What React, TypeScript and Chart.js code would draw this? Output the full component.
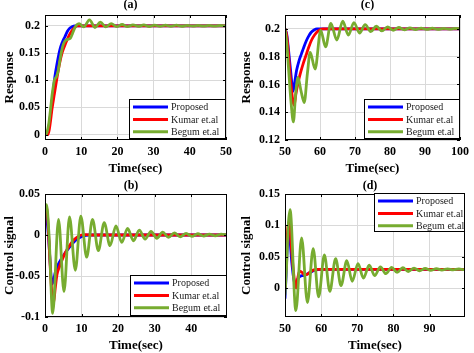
import React, { useEffect, useRef } from "react";
import { Chart, registerables } from "chart.js";

Chart.register(...registerables);

const FONT = "'Liberation Serif', 'Times New Roman', Times, serif";

// ---- series meta ----
const seriesNames = ["Proposed", "Kumar et.al", "Begum et.al"];
const seriesColors = ["#0000ff", "#ff0000", "#77ac30"];
const xAxisLabel = "Time(sec)";

// ---- panel (a): response, 0-50 s ----
const aProposedT = [0, 0.4, 1, 1.6, 2.2, 2.7, 3.4, 4.1, 4.8, 5.5, 6.2, 6.9, 7.6, 8.2, 50];
const aProposedV = [0, 0, 0.012, 0.04, 0.075, 0.105, 0.133, 0.156, 0.17, 0.18, 0.19, 0.196, 0.199, 0.2, 0.2];
const aKumarT = [0, 0.8, 1.2, 2, 2.6, 3.2, 4, 4.8, 5.7, 6.7, 7.5, 8.2, 8.9, 50];
const aKumarV = [0, 0, 0.01, 0.05, 0.075, 0.1, 0.13, 0.152, 0.168, 0.183, 0.192, 0.197, 0.2, 0.2];
const aBegumT = [0, 0.5, 1, 1.5, 2, 2.6, 3.1, 3.6, 4.2, 4.8, 5.4, 6.2, 7, 7.6, 8.2, 8.8, 9.4, 10.7, 12.3, 13.8,
  15.3, 16.8, 18.3, 19.8, 21.3, 22.8, 24.3, 25.8, 27.3, 28.8, 30.3, 31.8, 33.3, 34.8, 36.3, 37.8, 39.3, 40.8,
  42.3, 43.8, 45.3, 46.8, 48.3, 50];
const aBegumV = [0, 0.003, 0.018, 0.045, 0.075, 0.1, 0.106, 0.116, 0.14, 0.16, 0.171, 0.175, 0.177, 0.186, 0.196,
  0.202, 0.204, 0.198, 0.211, 0.197, 0.207, 0.198, 0.204, 0.1985, 0.2025, 0.1985, 0.202, 0.199, 0.2018, 0.1988,
  0.2015, 0.199, 0.2013, 0.1992, 0.2012, 0.1993, 0.201, 0.1994, 0.2009, 0.1995, 0.2008, 0.1995, 0.2007, 0.1997];

// ---- panel (b): control signal, 0-49.8 s ----
const bProposedT = [0, 0.5, 1, 1.5, 1.9, 2.3, 2.8, 3.5, 4.5, 5.5, 6.5, 7.5, 8.5, 9.5, 10.5, 12, 49.8];
const bProposedV = [0.03, 0.02, -0.005, -0.04, -0.06, -0.056, -0.046, -0.037, -0.029, -0.022, -0.016, -0.0105,
  -0.006, -0.003, -0.001, 0, 0];
const bKumarT = [0, 0.5, 1, 1.5, 2, 2.3, 2.8, 3.3, 4, 5, 6, 7, 8, 9, 10, 11, 13, 49.8];
const bKumarV = [0.033, 0.032, 0, -0.045, -0.078, -0.084, -0.065, -0.048, -0.038, -0.027, -0.018, -0.011,
  -0.0055, -0.002, 0, 0.0005, 0, 0];
const bBegumT = [0, 0.4, 1.1, 2.1, 3.7, 5.2, 6.7, 8.3, 9.8, 11.4, 13, 14.6, 16.2, 17.8, 19.4, 21, 22.6, 24.2,
  25.8, 27.4, 29, 30.6, 32.2, 33.8, 35.4, 37, 38.6, 40.2, 41.8, 43.4, 45, 46.6, 48.2, 49.8];
const bBegumV = [0.035, 0.037, 0, -0.0955, 0.019, -0.069, 0.022, -0.043, 0.023, -0.027, 0.019, -0.019, 0.015,
  -0.013, 0.011, -0.009, 0.008, -0.007, 0.006, -0.005, 0.0045, -0.004, 0.0035, -0.003, 0.0025, -0.0022, 0.002,
  -0.0017, 0.0015, -0.0013, 0.001, -0.001, 0.001, 0];

// ---- panel (c): response, 50-100 s ----
const cProposedT = [50, 50.5, 51, 51.6, 52.3, 52.8, 53.3, 54, 54.7, 55.4, 56.1, 56.8, 57.5, 58.3, 59.1, 100];
const cProposedV = [0.2, 0.196, 0.185, 0.17, 0.155, 0.162, 0.17, 0.177, 0.182, 0.187, 0.1915, 0.195, 0.1976,
  0.1992, 0.2, 0.2];
const cKumarT = [50, 50.5, 51, 51.6, 52.2, 52.6, 53.1, 53.8, 54.5, 55.2, 56, 56.8, 57.6, 58.5, 59.5, 60.8, 100];
const cKumarV = [0.2, 0.195, 0.182, 0.163, 0.149, 0.145, 0.153, 0.162, 0.169, 0.175, 0.181, 0.187, 0.192,
  0.1958, 0.1985, 0.2, 0.2];
const cBegumT = [50, 50.5, 51, 51.7, 52.4, 53, 53.7, 54.6, 55.5, 56.4, 57.2, 58.6, 60.2, 61.6, 63.1, 64.8, 66.5,
  68.1, 69.7, 71.3, 72.9, 74.5, 76.1, 77.7, 79.3, 80.9, 82.5, 84.1, 85.7, 87.3, 88.9, 90.5, 92.1, 93.7, 95.3,
  96.9, 98.5, 100];
const cBegumV = [0.2, 0.19, 0.172, 0.148, 0.133, 0.152, 0.165, 0.155, 0.147, 0.168, 0.183, 0.171, 0.199, 0.187,
  0.204, 0.192, 0.2055, 0.1955, 0.2045, 0.197, 0.203, 0.198, 0.202, 0.1985, 0.2015, 0.199, 0.201, 0.1993, 0.2008,
  0.1995, 0.2006, 0.1996, 0.2005, 0.1997, 0.2004, 0.1998, 0.2003, 0.2];

// ---- panel (d): control signal, 50-99.8 s ----
const dProposedT = [50, 50.3, 50.7, 51, 51.4, 51.9, 52.5, 53, 53.6, 54.2, 55, 56, 57, 58, 59, 60, 99.8];
const dProposedV = [-0.016, 0.02, 0.075, 0.09, 0.075, 0.04, 0.012, 0.005, 0.015, 0.019, 0.02, 0.022, 0.025,
  0.028, 0.0295, 0.03, 0.03];
const dKumarT = [50, 50.3, 50.7, 51, 51.3, 51.7, 52.2, 52.7, 53.1, 53.5, 54, 54.7, 55.5, 56.2, 57, 58, 59, 60, 99.8];
const dKumarV = [0, 0.04, 0.09, 0.105, 0.1, 0.07, 0.035, 0.008, 0, 0.015, 0.027, 0.025, 0.021, 0.022, 0.026,
  0.029, 0.0298, 0.03, 0.03];
const dBegumT = [50, 50.4, 50.9, 51.4, 53.0, 54.6, 56.2, 57.8, 59.3, 60.9, 62.4, 64.0, 65.5, 67.1, 68.6, 70.2,
  71.7, 73.3, 74.8, 76.4, 77.9, 79.5, 81.0, 82.6, 84.1, 85.7, 87.2, 88.8, 90.3, 91.9, 93.4, 95.0, 96.5, 98.1,
  99.6, 99.8];
const dBegumV = [-0.01, 0.03, 0.1, 0.125, -0.036, 0.08, -0.023, 0.063, -0.014, 0.053, -0.005, 0.047, 0.004,
  0.0436, 0.011, 0.039, 0.016, 0.0367, 0.02, 0.034, 0.023, 0.033, 0.025, 0.0325, 0.0265, 0.032, 0.0275, 0.0315,
  0.0283, 0.031, 0.0288, 0.0308, 0.0292, 0.0305, 0.0295, 0.0297];

type PanelDef = {
  key: string;
  left: number;
  top: number;
  width: number;
  height: number;
  padTop: number;
  padRight: number;
  yAxisWidth: number;
  xAxisHeight: number;
  xMin: number;
  xMax: number;
  yMin: number;
  yMax: number;
  yStep: number;
  yLabel: string;
  title: string;
  titleY: number;
  legend: { w: number; h: number; anchor: "top" | "bottom" };
  series: number[][][];
};

const panels: PanelDef[] = [
  {
    key: "a", left: 0, top: 0, width: 237, height: 176, padTop: 15, padRight: 10, yAxisWidth: 45, xAxisHeight: 36,
    xMin: 0, xMax: 50, yMin: -0.01, yMax: 0.22, yStep: 0.05, yLabel: "Response", title: "(a)", titleY: 5,
    legend: { w: 97, h: 40, anchor: "bottom" },
    series: [[aProposedT, aProposedV], [aKumarT, aKumarV], [aBegumT, aBegumV]],
  },
  {
    key: "c", left: 237, top: 0, width: 237, height: 176, padTop: 15, padRight: 9, yAxisWidth: 48, xAxisHeight: 36,
    xMin: 50, xMax: 100, yMin: 0.12, yMax: 0.21, yStep: 0.02, yLabel: "Response", title: "(c)", titleY: 5,
    legend: { w: 96, h: 40, anchor: "bottom" },
    series: [[cProposedT, cProposedV], [cKumarT, cKumarV], [cBegumT, cBegumV]],
  },
  {
    key: "b", left: 0, top: 176, width: 237, height: 177, padTop: 18, padRight: 10, yAxisWidth: 45, xAxisHeight: 36,
    xMin: 0, xMax: 49.8, yMin: -0.1, yMax: 0.05, yStep: 0.05, yLabel: "Control signal", title: "(b)", titleY: 9.5,
    legend: { w: 97, h: 41, anchor: "bottom" },
    series: [[bProposedT, bProposedV], [bKumarT, bKumarV], [bBegumT, bBegumV]],
  },
  {
    key: "d", left: 237, top: 176, width: 237, height: 177, padTop: 18, padRight: 9, yAxisWidth: 48, xAxisHeight: 36,
    xMin: 50, xMax: 99.8, yMin: -0.046, yMax: 0.15, yStep: 0.05, yLabel: "Control signal", title: "(d)", titleY: 9.5,
    legend: { w: 91, h: 39, anchor: "top" },
    series: [[dProposedT, dProposedV], [dKumarT, dKumarV], [dBegumT, dBegumV]],
  },
];

const fmt = (v: number | string) => String(Math.round(Number(v) * 10000) / 10000);

const decorPlugin = {
  id: "decor",
  afterDraw(chart: any, _args: any, opts: any) {
    const { ctx, chartArea: ca, scales } = chart;
    ctx.save();
    ctx.strokeStyle = "#000";
    ctx.lineWidth = 1;
    const tl = 3;
    ctx.beginPath();
    for (const t of scales.x.ticks) {
      const px = Math.round(scales.x.getPixelForValue(t.value)) + 0.5;
      ctx.moveTo(px, ca.top);
      ctx.lineTo(px, ca.top + tl);
      ctx.moveTo(px, ca.bottom);
      ctx.lineTo(px, ca.bottom - tl);
    }
    for (const t of scales.y.ticks) {
      const py = Math.round(scales.y.getPixelForValue(t.value)) + 0.5;
      ctx.moveTo(ca.left, py);
      ctx.lineTo(ca.left + tl, py);
      ctx.moveTo(ca.right, py);
      ctx.lineTo(ca.right - tl, py);
    }
    ctx.stroke();
    ctx.strokeRect(Math.round(ca.left) + 0.5, Math.round(ca.top) + 0.5,
      Math.round(ca.right - ca.left) - 1, Math.round(ca.bottom - ca.top) - 1);

    // panel title
    ctx.fillStyle = "#000";
    ctx.font = `bold 12px ${FONT}`;
    ctx.textAlign = "center";
    ctx.textBaseline = "middle";
    ctx.fillText(opts.title, (ca.left + ca.right) / 2 - 5, opts.titleY);

    // legend box inside the axes
    const lg = opts.legend;
    const bx = Math.round(ca.right - lg.w);
    const by = lg.anchor === "top" ? Math.round(ca.top) - 1 : Math.round(ca.bottom - lg.h) - 1;
    ctx.fillStyle = "#fff";
    ctx.fillRect(bx, by, lg.w, lg.h);
    ctx.strokeStyle = "#000";
    ctx.lineWidth = 1;
    ctx.strokeRect(bx + 0.5, by + 0.5, lg.w - 1, lg.h - 1);
    ctx.font = `10px ${FONT}`;
    ctx.textAlign = "left";
    ctx.textBaseline = "middle";
    seriesNames.forEach((name: string, i: number) => {
      const ry = by + 8 + i * 12.4;
      ctx.strokeStyle = seriesColors[i];
      ctx.lineWidth = 3;
      ctx.beginPath();
      ctx.moveTo(bx + 4, ry);
      ctx.lineTo(bx + 39, ry);
      ctx.stroke();
      ctx.fillStyle = "#222";
      ctx.fillText(name, bx + 42, ry + 0.5);
    });
    ctx.restore();
  },
};

function PanelChart({ p }: { p: PanelDef }) {
  const ref = useRef<HTMLCanvasElement | null>(null);
  useEffect(() => {
    const canvas = ref.current;
    if (!canvas) return;
    const tickFont = { family: FONT, size: 12, weight: "bold" as const };
    const titleFont = { family: FONT, size: 13, weight: "bold" as const };
    const orders = [3, 2, 1];
    const chart = new Chart(canvas, {
      type: "line",
      data: {
        datasets: p.series.map((s, i) => ({
          label: seriesNames[i],
          data: s[0].map((t, j) => ({ x: t, y: s[1][j] })),
          borderColor: seriesColors[i],
          backgroundColor: seriesColors[i],
          borderWidth: 2.8,
          pointRadius: 0,
          fill: false,
          cubicInterpolationMode: "monotone" as const,
          borderJoinStyle: "round" as const,
          borderCapStyle: "round" as const,
          order: orders[i],
        })),
      },
      options: {
        responsive: false,
        animation: false,
        events: [],
        layout: { padding: { left: 0, top: p.padTop, right: p.padRight, bottom: 0 } },
        plugins: {
          legend: { display: false },
          tooltip: { enabled: false },
          title: { display: false },
          decor: { title: p.title, titleY: p.titleY, legend: p.legend },
        } as any,
        scales: {
          x: {
            type: "linear",
            min: p.xMin,
            max: p.xMax,
            ticks: {
              stepSize: 10,
              includeBounds: false,
              maxRotation: 0,
              autoSkip: false,
              padding: 5,
              color: "#000",
              font: tickFont,
              callback: (v: any) => fmt(v),
            },
            grid: { color: "#d9d9d9", lineWidth: 1, drawTicks: false },
            border: { display: false },
            title: { display: true, text: xAxisLabel, color: "#000", font: titleFont, padding: { top: 0, bottom: 0 } },
            afterFit: (s: any) => { s.height = p.xAxisHeight; },
          },
          y: {
            type: "linear",
            min: p.yMin,
            max: p.yMax,
            ticks: {
              stepSize: p.yStep,
              includeBounds: false,
              autoSkip: false,
              padding: 5,
              color: "#000",
              font: tickFont,
              callback: (v: any) => fmt(v),
            },
            grid: { color: "#d9d9d9", lineWidth: 1, drawTicks: false },
            border: { display: false },
            title: { display: true, text: p.yLabel, color: "#000", font: titleFont, padding: { top: 2, bottom: 0 } },
            afterFit: (s: any) => { s.width = p.yAxisWidth; },
          },
        },
      } as any,
      plugins: [decorPlugin],
    });
    return () => chart.destroy();
  }, [p]);
  return (
    <canvas
      ref={ref}
      width={p.width}
      height={p.height}
      style={{ position: "absolute", left: p.left, top: p.top, width: p.width, height: p.height }}
    />
  );
}

export default function App() {
  return (
    <div style={{ position: "absolute", left: 0, top: 0, width: 474, height: 353, background: "#fff", overflow: "hidden" }}>
      {panels.map((p) => (
        <PanelChart key={p.key} p={p} />
      ))}
    </div>
  );
}
